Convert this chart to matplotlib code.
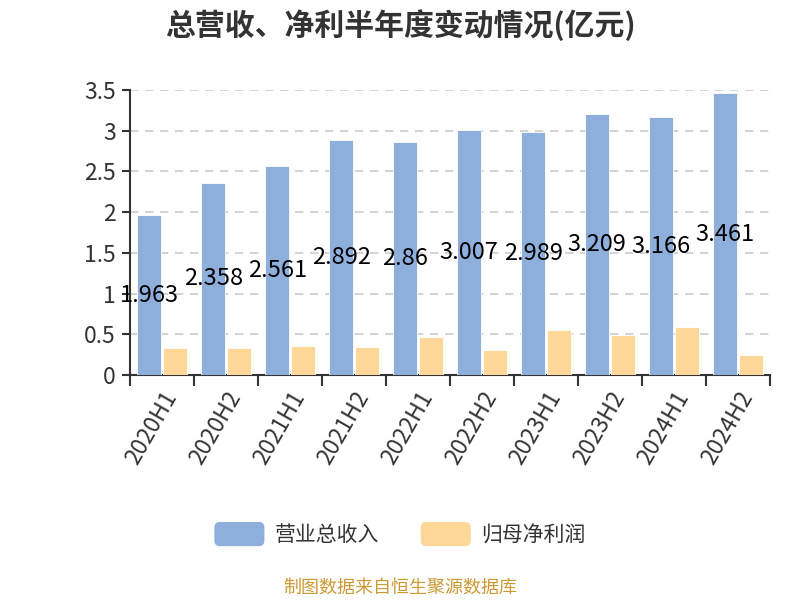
import numpy as np
import matplotlib
matplotlib.use('Agg')
import matplotlib.pyplot as plt
from matplotlib.patches import Patch, FancyBboxPatch
from matplotlib.legend_handler import HandlerPatch

plt.rcParams['font.family'] = ['Noto Sans CJK SC', 'DejaVu Sans']

# data
periods = ['2020H1', '2020H2', '2021H1', '2021H2', '2022H1',
           '2022H2', '2023H1', '2023H2', '2024H1', '2024H2']
revenue = [1.963, 2.358, 2.561, 2.892, 2.86, 3.007, 2.989, 3.209, 3.166, 3.461]
net_profit = [0.33, 0.33, 0.36, 0.35, 0.47, 0.31, 0.55, 0.49, 0.59, 0.24]
y_ticks = [0, 0.5, 1, 1.5, 2, 2.5, 3, 3.5]

blue = '#8eaedb'
orange = '#ffd899'
dark = '#333333'


class RoundHandler(HandlerPatch):
    def create_artists(self, legend, orig_handle, xdescent, ydescent,
                       width, height, fontsize, trans):
        p = FancyBboxPatch((-xdescent, -ydescent - 2), width, height + 4,
                           boxstyle='round,pad=0,rounding_size=4',
                           facecolor=orig_handle.get_facecolor(),
                           edgecolor='none', transform=trans)
        return [p]


fig = plt.figure(figsize=(8, 6), dpi=100)
ax = fig.add_axes([0.1625, 0.375, 0.8, 0.475])

x = np.arange(len(periods))
w = 0.38
ax.bar(x - 0.2, revenue, w, color=blue, edgecolor='white', linewidth=0.6, zorder=3)
ax.bar(x + 0.2, net_profit, w, color=orange, edgecolor='white', linewidth=0.6, zorder=3)

for xi, v in zip(x, revenue):
    ax.text(xi - 0.2, v / 2, f'{v:g}', ha='center', va='center',
            fontsize=17, color='black', zorder=5)

ax.set_xlim(-0.5, len(periods) - 0.5)
ax.set_ylim(0, 3.5)
ax.set_yticks(y_ticks)
ax.set_yticklabels([f'{t:g}' for t in y_ticks])
ax.set_xticks(np.arange(len(periods) + 1) - 0.5, minor=False)
ax.set_xticklabels([])
ax.set_xticks(x, minor=True)
ax.set_xticklabels(periods, minor=True, rotation=60, ha='right',
                   rotation_mode='anchor', fontsize=16.5, color=dark)
ax.tick_params(axis='x', which='minor', length=0, pad=9)
ax.tick_params(axis='x', which='major', length=8, width=1.5, color=dark, direction='out')
ax.tick_params(axis='y', length=6, width=1.5, color=dark, labelsize=16.5,
               labelcolor=dark, pad=4)

ax.grid(axis='y', linestyle=(0, (5, 4)), color='#cccccc', linewidth=1.2, zorder=0)
for s in ['top', 'right']:
    ax.spines[s].set_visible(False)
for s in ['left', 'bottom']:
    ax.spines[s].set_color(dark)
    ax.spines[s].set_linewidth(1.5)

fig.text(0.5, 0.958, '总营收、净利半年度变动情况(亿元)', ha='center', va='center',
         fontsize=21.5, fontweight='bold', color=dark)

handles = [Patch(facecolor=blue, label='营业总收入'),
           Patch(facecolor=orange, label='归母净利润')]
fig.legend(handles=handles, loc='center', bbox_to_anchor=(0.5, 0.108),
           ncol=2, frameon=False, fontsize=15, handlelength=2.4,
           handleheight=1.0, handletextpad=0.5, columnspacing=2.0,
           labelcolor=dark, handler_map={Patch: RoundHandler()})

fig.text(0.5, 0.02, '制图数据来自恒生聚源数据库', ha='center', va='center',
         fontsize=13, color='#cc9933')

fig.savefig('out.png', dpi=100)
